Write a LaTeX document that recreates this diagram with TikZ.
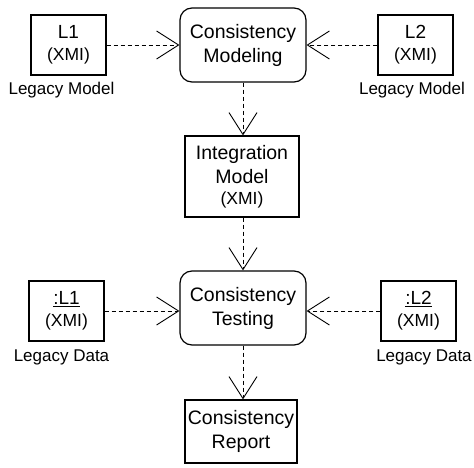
\documentclass[tikz,border=0pt]{standalone}
\usepackage{fontspec}
\setmainfont{Liberation Sans}
\usetikzlibrary{arrows.meta}
\begin{document}
\begin{tikzpicture}[x=1pt,y=-1pt,
  big/.style={font=\fontsize{19.5}{24}\selectfont, align=center},
  small/.style={font=\fontsize{17.5}{22}\selectfont, align=center},
  sqbox/.style={draw, line width=1.2pt, inner sep=0pt},
  rbox/.style={draw, line width=1.2pt, rounded corners=12pt, inner sep=0pt},
  dep/.style={dash pattern=on 4pt off 3pt, line width=0.9pt,
    -{Straight Barb[length=22pt,width=28pt,line width=0.9pt]}},
  lbl/.style={font=\fontsize{17}{20}\selectfont, inner sep=0pt}]
\useasboundingbox (0,0) rectangle (474,468);
% nodes
\node[sqbox, small, minimum width=75pt, minimum height=60pt] (l1) at (68.5,45) {{\fontsize{19}{22}\selectfont L1}\\(XMI)};
\node[rbox, big, minimum width=126pt, minimum height=74pt] (cm) at (243,45) {Consistency\\Modeling};
\node[sqbox, small, minimum width=75pt, minimum height=60pt] (l2) at (415.5,45) {{\fontsize{19}{22}\selectfont L2}\\(XMI)};
\node[sqbox, big, minimum width=114pt, minimum height=81pt] (im) at (242,176.5) {Integration\\Model\\[-3pt]{\fontsize{17.5}{21}\selectfont (XMI)}};
\node[rbox, big, minimum width=126pt, minimum height=74pt] (ct) at (243,308) {Consistency\\Testing};
\node[sqbox, small, minimum width=75pt, minimum height=60pt] (d1) at (66.5,311) {{\fontsize{19}{22}\selectfont\underline{:L1}}\\(XMI)};
\node[sqbox, small, minimum width=75pt, minimum height=60pt] (d2) at (418.5,311) {{\fontsize{19}{22}\selectfont\underline{:L2}}\\(XMI)};
\node[sqbox, big, minimum width=112pt, minimum height=63pt] (cr) at (241,431.5) {Consistency\\Report};
% labels
\node[lbl] (lm1) at (61.5,90) {Legacy Model};
\node[lbl] (lm2) at (412,90) {Legacy Model};
\node[lbl] (ld1) at (61.5,357) {Legacy Data};
\node[lbl] (ld2) at (424,357) {Legacy Data};
% connectors
\draw[dep] (l1) -- (cm);
\draw[dep] (l2) -- (cm);
\draw[dep] (cm.south) -- (cm.south |- im.north);
\draw[dep] (ct.north |- im.south) -- (ct.north);
\draw[dep] (d1) -- (d1 -| ct.west);
\draw[dep] (d2) -- (d2 -| ct.east);
\draw[dep] (ct.south) -- (ct.south |- cr.north);
\end{tikzpicture}
\end{document}
